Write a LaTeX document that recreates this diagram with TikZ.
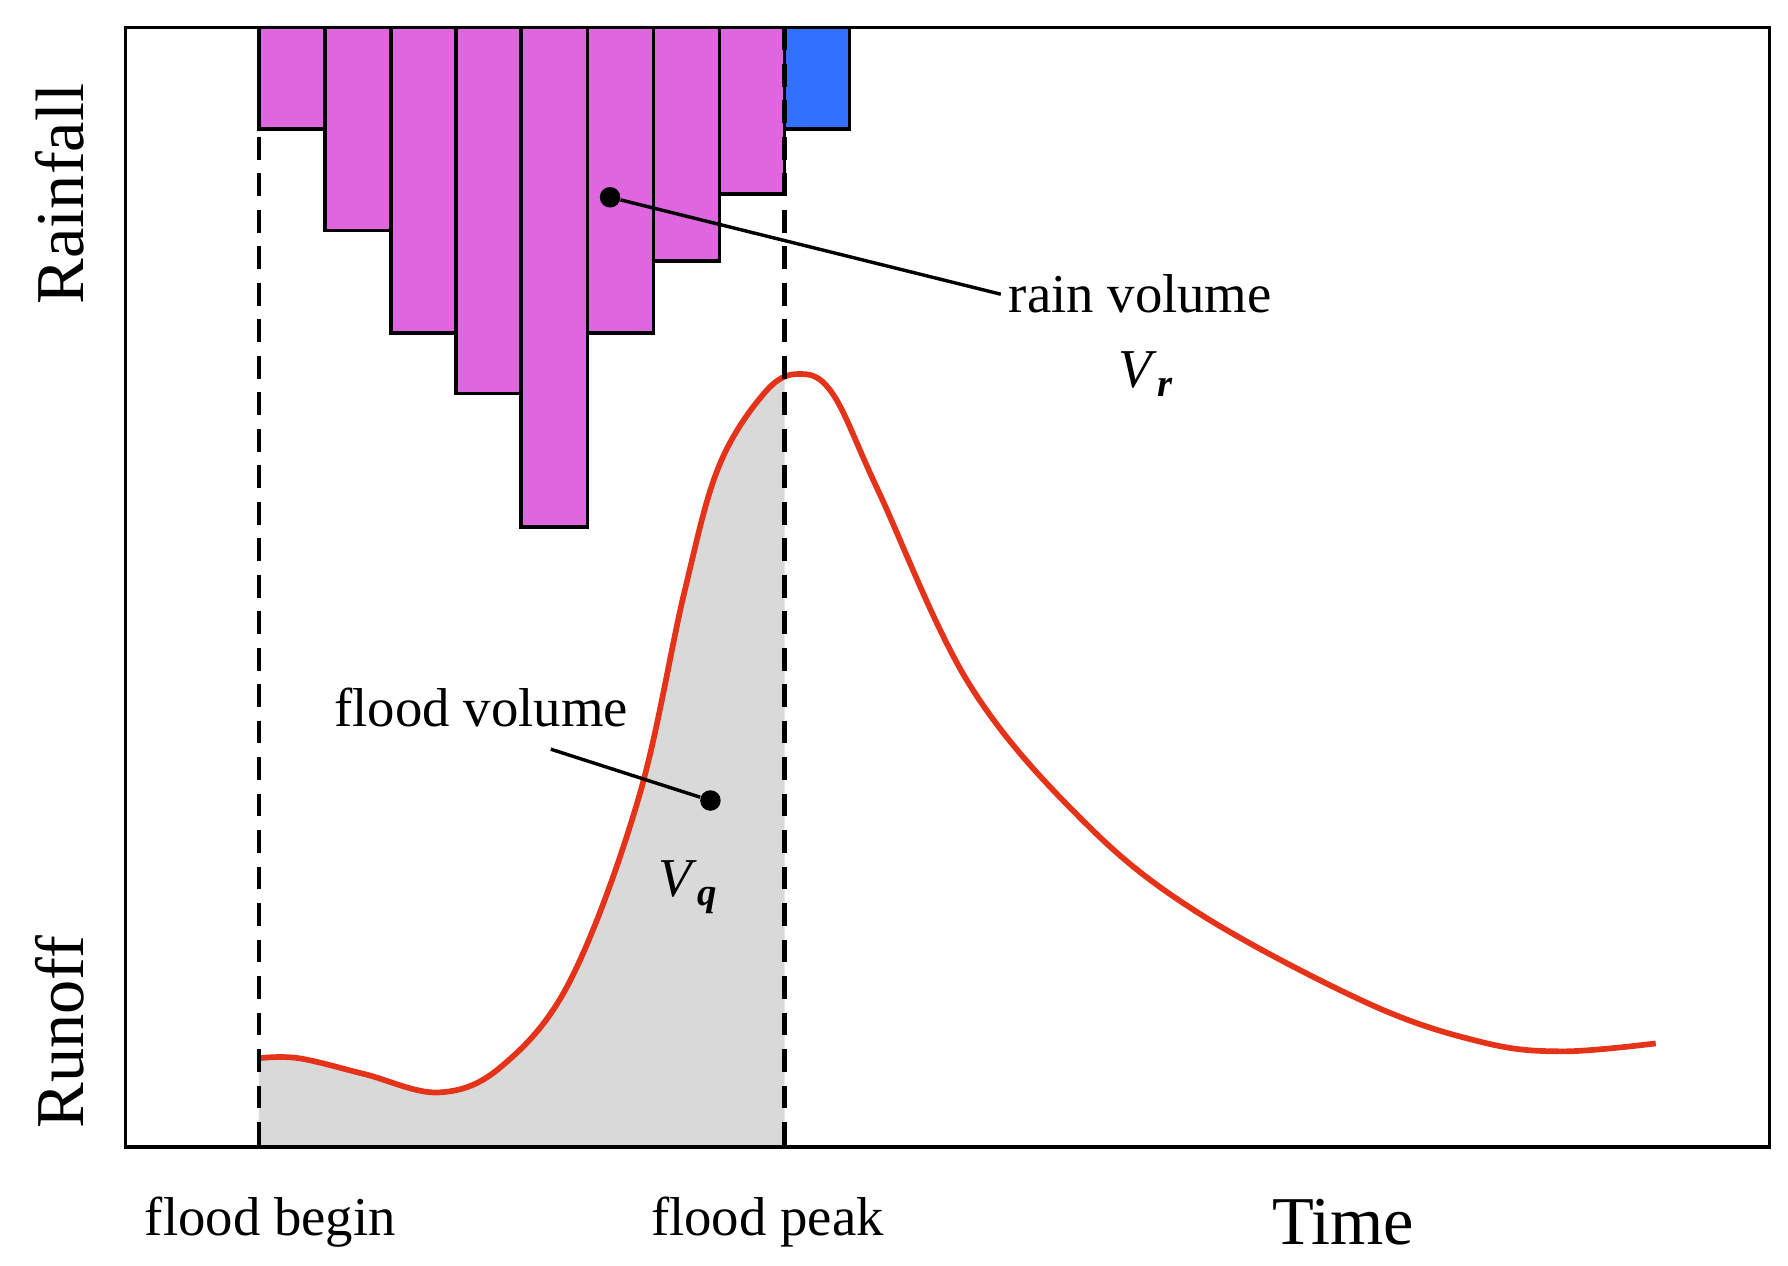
\documentclass[tikz,border=0pt]{standalone}
\usepackage{fontspec}
\setmainfont{Liberation Serif}
\begin{document}
\begin{tikzpicture}[x=0.5pt,y=-0.5pt,
  bar/.style={draw=black,line width=1.5pt,fill=violet!40!magenta!60!white},
  lbl/.style={font=\fontsize{24}{28}\selectfont},
  dot/.style={circle,fill=black,inner sep=0pt,minimum size=9pt}]
\useasboundingbox (0,0) rectangle (1568,1110);
\def\curve{(227,928) (262,928) (320,942) (385,958) (440,935) (500,860) (560,700) (600,520) (630,410) (670,345) (700,328) (730,345) (770,430) (850,600) (950,720) (1050,800) (1200,880) (1300,914) (1370,922) (1452,915)}
\begin{scope}
\clip (227,0) rectangle (688,1006);
\fill[gray!30] plot[smooth,tension=0.6] coordinates {\curve} -- (1452,1006) -- (227,1006) -- cycle;
\end{scope}
\foreach \a/\b/\h in {227/285/113,285/343/202,343/400/292,400/457/345,457/515/462,515/573/292,573/631/229,631/688/170}
  \draw[bar] (\a,24) rectangle (\b,\h);
\draw[draw=black,line width=1.5pt,fill=blue!70!cyan!80!white] (688,24) rectangle (745,113);
\draw[red!60!brown,line width=2.5pt] plot[smooth,tension=0.6] coordinates {\curve};
\draw[line width=2pt,dash pattern=on 10pt off 6pt] (227,24) -- (227,1006);
\draw[line width=2pt,dash pattern=on 10pt off 6pt] (688,24) -- (688,1006);
\draw[line width=1.5pt] (110,24) rectangle (1552,1006);
\node[dot] (d1) at (535,173) {};
\node[lbl] (rv) at (1000,258) {rain volume};
\draw[line width=1.5pt] (d1) -- (rv.west);
\node[lbl] (vr) at (1005,328) {\textit{V}\raisebox{-0.35ex}{\fontsize{17}{20}\selectfont\textbf{\textit{r}}}};
\node[dot] (d2) at (623,702) {};
\node[lbl] (fv) at (422,620) {flood volume};
\coordinate (fvs) at (483,657);
\draw[line width=1.5pt] (fvs) -- (d2);
\node[lbl] (vq) at (603,778) {\textit{V}\raisebox{-0.35ex}{\fontsize{17}{20}\selectfont\textbf{\textit{q}}}};
\node[lbl] (fb) at (237,1072) {flood begin};
\node[lbl] (fp) at (673,1072) {flood peak};
\node[font=\fontsize{30}{34}\selectfont] (t) at (1178,1072) {Time};
\node[font=\fontsize{30}{34}\selectfont,rotate=90] (rf) at (52,170) {Rainfall};
\node[font=\fontsize{30}{34}\selectfont,rotate=90] (ro) at (52,905) {Runoff};
\end{tikzpicture}
\end{document}
